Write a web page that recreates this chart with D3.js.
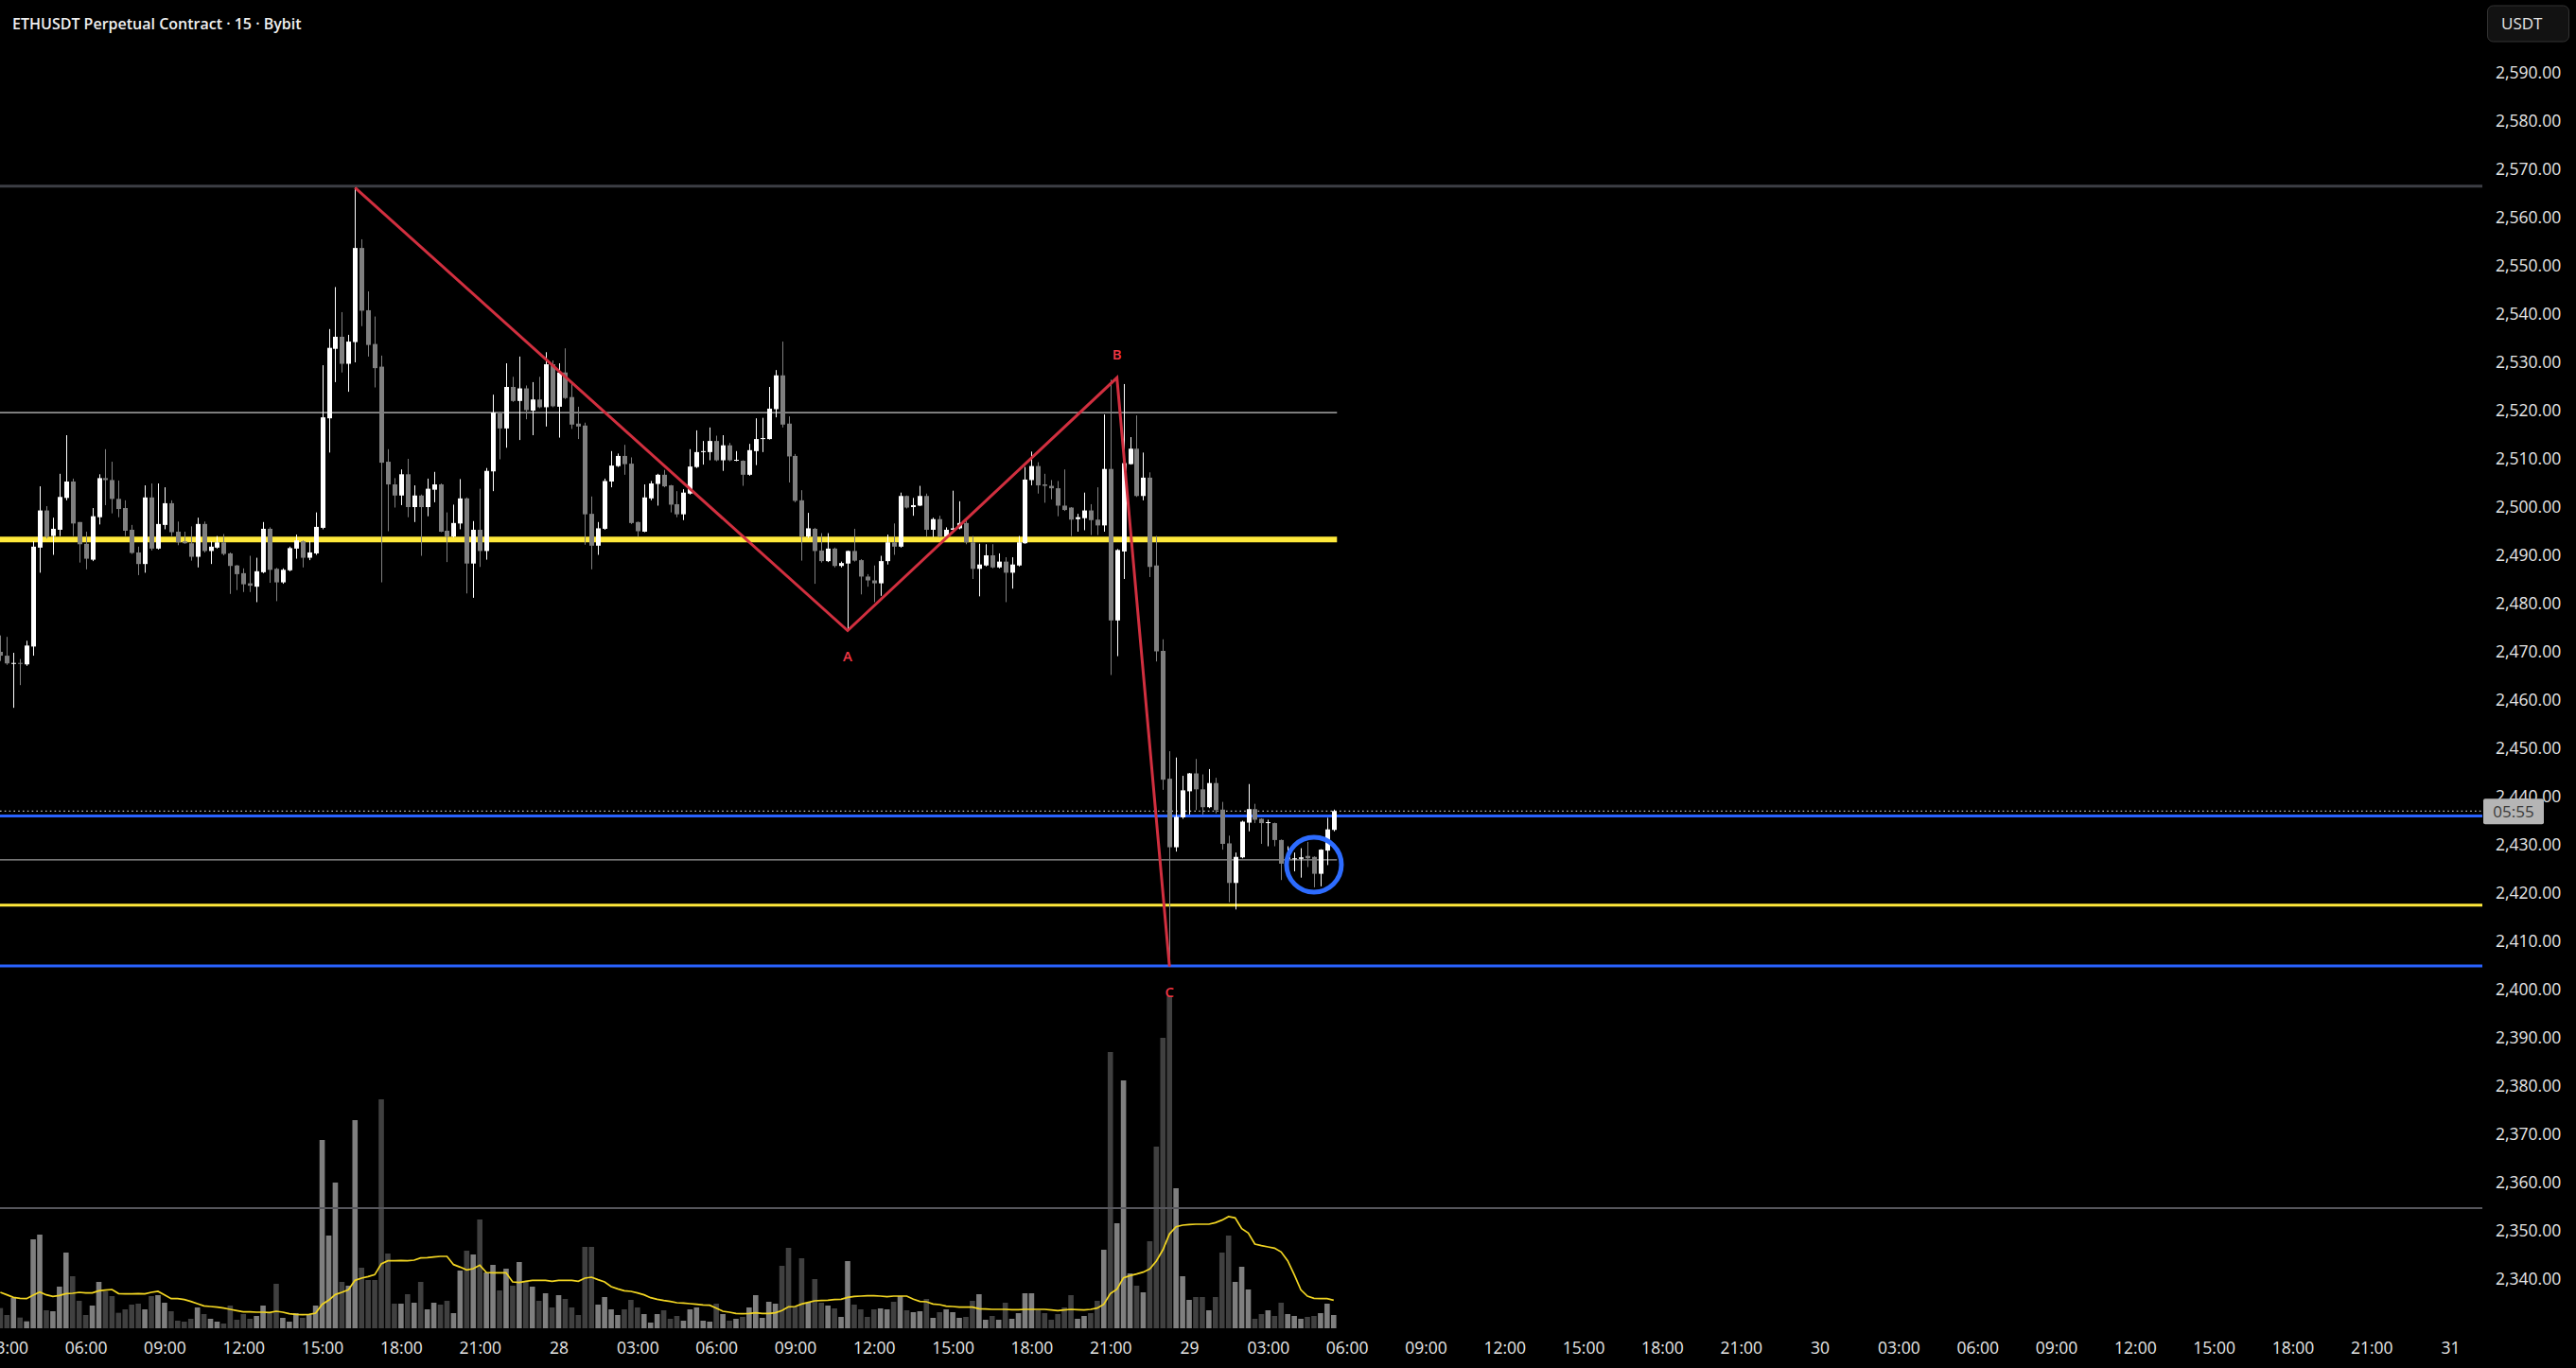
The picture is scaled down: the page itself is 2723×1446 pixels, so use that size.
<!DOCTYPE html>
<html>
<head>
<meta charset="utf-8">
<script src="https://cdn.jsdelivr.net/npm/d3@7"></script>
<style>
  html, body { margin: 0; padding: 0; background: #000; }
  svg { display: block; }
  text { font-family: "Open Sans", "Noto Sans", sans-serif; }
</style>
</head>
<body>
<svg id="chart" width="2723" height="1446"></svg>
<script>
// 15 minute bars, first one opens 02:45 on the 27th
const firstBarTime = "2025-05-27T02:45:00Z";

const opens = [2470.0,2469.2,2467.6,2467.7,2467.4,2471.1,2491.6,2499.3,2494.0,2495.3,2501.9,2505.3,2496.9,2492.4,2489.1,2497.9,2506.0,2505.6,2501.7,2499.8,2495.3,2490.6,2488.2,2502.0,2491.4,2496.3,2500.8,2494.9,2492.9,2492.5,2489.7,2496.5,2490.9,2491.6,2492.7,2490.4,2487.9,2486.3,2484.2,2483.5,2486.5,2495.5,2487.2,2484.4,2486.9,2491.4,2492.9,2489.5,2490.4,2495.7,2518.4,2532.8,2535.3,2529.7,2534.2,2553.7,2540.8,2533.8,2529.1,2509.4,2504.7,2502.4,2506.8,2500.0,2502.4,2500.0,2503.6,2504.7,2495.1,2493.9,2496.6,2501.8,2488.3,2495.3,2490.9,2507.4,2519.6,2516.3,2524.9,2522.0,2524.6,2520.0,2522.3,2520.7,2529.6,2520.8,2527.9,2522.8,2517.3,2516.9,2498.6,2492.0,2495.5,2505.3,2508.5,2510.6,2509.0,2496.9,2494.9,2501.8,2504.8,2506.7,2504.5,2500.6,2498.5,2502.8,2508.3,2511.4,2511.4,2513.7,2509.7,2512.8,2509.8,2509.6,2506.7,2511.6,2514.1,2514.1,2520.3,2527.3,2517.3,2510.6,2501.4,2493.9,2495.5,2491.0,2488.8,2491.4,2487.8,2488.3,2490.9,2489.0,2485.6,2484.8,2484.2,2488.8,2492.7,2491.8,2502.3,2500.0,2500.3,2502.3,2495.3,2497.5,2493.9,2495.3,2495.6,2496.7,2492.7,2487.2,2487.9,2490.0,2487.5,2488.7,2486.4,2487.9,2492.5,2505.6,2508.5,2504.7,2504.4,2503.9,2500.3,2499.9,2497.5,2497.7,2499.3,2497.4,2496.2,2507.9,2476.5,2490.8,2508.9,2512.1,2502.3,2506.1,2487.9,2470.2,2443.7,2429.5,2435.7,2441.1,2444.8,2441.5,2437.8,2442.8,2437.3,2430.3,2422.1,2427.4,2434.6,2437.4,2435.4,2434.5,2434.5,2431.0,2427.1,2427.0,2427.1,2427.7,2427.5,2424.0,2428.8,2433.1];
const highs = [2473.4,2473.1,2469.8,2468.5,2472.3,2492.9,2504.3,2500.2,2497.8,2506.9,2514.9,2505.9,2496.9,2494.9,2499.8,2506.8,2512.0,2509.4,2505.5,2501.4,2496.3,2491.8,2504.5,2504.9,2504.9,2504.1,2501.4,2497.0,2494.9,2496.0,2497.8,2497.0,2492.9,2494.0,2494.4,2490.6,2488.0,2487.3,2489.9,2489.5,2496.9,2495.8,2487.4,2487.3,2491.8,2494.3,2493.1,2492.9,2498.9,2529.4,2536.9,2545.6,2540.4,2535.7,2566.2,2555.5,2544.7,2539.5,2531.4,2512.0,2506.0,2507.8,2510.0,2504.5,2502.6,2505.9,2507.3,2504.9,2498.9,2500.5,2505.8,2502.0,2497.1,2503.8,2508.1,2523.3,2519.8,2529.8,2527.0,2531.2,2525.2,2525.9,2527.0,2532.1,2530.4,2529.8,2532.9,2525.5,2520.8,2517.5,2502.2,2496.9,2505.9,2511.6,2511.1,2512.9,2510.3,2497.0,2504.7,2505.4,2506.9,2507.7,2504.6,2503.3,2503.7,2512.0,2515.9,2513.7,2516.5,2514.8,2514.9,2513.3,2511.6,2509.7,2513.1,2518.4,2518.5,2524.9,2528.4,2534.3,2518.8,2511.0,2503.5,2498.8,2495.7,2494.6,2494.6,2491.6,2488.7,2491.0,2495.5,2489.2,2486.1,2487.9,2489.9,2494.3,2496.6,2503.0,2502.4,2501.9,2504.4,2502.8,2497.8,2498.2,2495.8,2503.4,2501.2,2497.4,2494.0,2492.4,2492.3,2492.3,2490.4,2489.6,2489.6,2494.0,2508.3,2511.5,2509.3,2506.9,2505.6,2505.4,2507.8,2500.0,2498.6,2503.0,2500.6,2504.1,2519.2,2526.4,2491.3,2525.5,2514.5,2519.0,2511.3,2507.2,2494.0,2472.6,2449.4,2448.1,2444.3,2444.9,2447.8,2444.6,2445.7,2443.9,2438.9,2431.9,2428.4,2435.0,2442.6,2438.5,2435.5,2435.2,2434.6,2431.1,2429.7,2428.4,2429.3,2430.6,2427.6,2429.1,2435.6,2437.3];
const lows = [2468.1,2467.3,2458.4,2463.1,2467.1,2469.2,2486.4,2493.5,2490.1,2494.0,2501.4,2494.0,2488.5,2487.1,2488.8,2496.4,2500.4,2498.7,2497.9,2494.0,2490.3,2485.9,2486.4,2491.0,2491.2,2495.4,2494.0,2492.1,2492.4,2488.9,2487.5,2490.6,2488.2,2491.4,2490.0,2482.0,2482.8,2482.4,2482.4,2480.3,2486.3,2484.3,2480.5,2484.1,2486.7,2489.3,2487.5,2489.0,2490.1,2495.4,2511.3,2525.9,2527.9,2523.9,2530.0,2537.5,2531.2,2524.8,2484.4,2495.0,2499.9,2500.4,2497.9,2496.9,2489.9,2498.1,2501.0,2494.8,2488.6,2493.7,2495.4,2482.1,2481.2,2487.6,2489.1,2503.3,2509.9,2512.3,2521.8,2513.9,2518.2,2514.9,2520.5,2516.7,2520.7,2514.4,2522.4,2516.2,2514.1,2492.2,2487.1,2490.1,2495.3,2504.1,2508.3,2506.7,2496.5,2493.9,2494.8,2501.4,2500.3,2504.1,2498.9,2497.9,2497.3,2502.6,2508.1,2508.8,2509.7,2509.5,2507.5,2509.5,2509.5,2504.4,2506.5,2508.7,2511.4,2514.0,2518.6,2516.5,2505.1,2501.0,2488.9,2493.6,2484.1,2488.5,2488.6,2487.5,2487.5,2474.4,2488.7,2481.9,2483.5,2480.3,2481.6,2488.1,2490.1,2491.6,2499.7,2498.2,2500.2,2493.9,2493.8,2493.7,2493.7,2495.1,2495.4,2492.3,2485.1,2481.5,2487.7,2487.3,2487.3,2480.3,2483.1,2487.7,2492.4,2504.5,2502.8,2500.9,2501.6,2498.1,2499.2,2494.0,2494.9,2495.2,2494.2,2494.2,2494.9,2465.2,2469.1,2485.1,2508.8,2502.1,2501.4,2485.5,2468.0,2441.4,2404.8,2428.6,2435.4,2436.3,2437.2,2436.3,2437.6,2436.5,2429.0,2418.1,2416.6,2427.2,2432.8,2434.5,2430.2,2429.7,2429.7,2422.7,2424.9,2424.5,2423.2,2425.4,2421.2,2421.4,2425.8,2432.8];
const closes = [2469.2,2467.6,2467.7,2467.6,2471.3,2491.8,2499.3,2493.9,2495.5,2502.1,2505.3,2496.6,2492.3,2489.3,2498.1,2506.0,2505.6,2501.7,2499.6,2495.1,2490.5,2488.2,2502.0,2491.4,2496.5,2500.8,2494.8,2492.7,2492.5,2489.7,2496.5,2490.9,2491.8,2492.7,2490.3,2487.8,2486.1,2484.0,2483.7,2486.7,2495.5,2487.0,2484.4,2487.0,2491.5,2493.1,2489.5,2490.6,2495.9,2518.6,2533.0,2535.3,2529.7,2534.3,2553.7,2540.7,2533.6,2528.8,2509.2,2504.7,2502.4,2506.8,2500.0,2502.4,2500.0,2503.8,2504.7,2494.9,2493.9,2496.7,2501.8,2488.3,2495.3,2490.9,2507.5,2519.6,2516.3,2524.9,2522.0,2524.6,2520.1,2522.3,2520.7,2529.6,2520.9,2527.9,2522.6,2517.1,2516.7,2498.5,2492.0,2495.6,2505.4,2508.6,2510.6,2508.9,2496.7,2495.0,2502.0,2504.9,2506.7,2504.3,2500.5,2498.5,2503.0,2508.4,2511.4,2511.6,2513.7,2509.7,2512.8,2509.7,2509.8,2506.7,2511.8,2514.1,2514.3,2520.4,2527.3,2517.1,2510.5,2501.3,2493.9,2495.6,2490.9,2488.8,2491.4,2487.8,2488.4,2490.9,2488.9,2485.6,2484.8,2484.2,2488.8,2492.7,2491.8,2502.3,2499.9,2500.4,2502.3,2495.3,2497.5,2493.9,2495.3,2495.6,2496.7,2492.7,2487.2,2488.1,2490.0,2487.5,2488.7,2486.4,2488.1,2492.7,2505.7,2508.5,2504.5,2504.4,2503.9,2500.3,2499.4,2497.4,2497.9,2499.3,2497.3,2496.2,2507.9,2476.5,2491.1,2509.1,2512.1,2502.3,2506.1,2487.6,2470.1,2443.5,2429.5,2435.8,2441.3,2444.8,2441.5,2437.8,2442.8,2437.2,2430.2,2422.1,2427.5,2434.8,2437.4,2435.2,2434.5,2434.7,2431.0,2426.1,2427.4,2427.2,2427.4,2427.2,2424.0,2429.0,2433.2,2437.0];

const volumes = [64,42,97,34,22,282,297,57,54,132,240,165,87,42,72,147,117,102,49,60,75,78,60,102,105,81,54,24,21,30,66,45,30,21,15,72,27,45,30,39,72,48,141,33,21,48,33,42,72,597,294,462,147,135,660,192,153,153,726,237,78,78,108,81,147,60,81,75,87,48,183,246,234,345,177,201,120,189,135,210,147,132,87,111,66,105,93,66,42,258,258,75,99,60,42,60,90,66,45,18,45,57,30,39,24,60,66,24,21,78,45,24,30,36,66,105,33,84,78,198,255,69,222,81,156,81,72,63,36,213,75,60,36,60,63,60,84,102,57,51,54,93,33,51,60,51,33,36,87,108,27,39,27,81,30,48,111,111,57,48,27,45,66,105,30,39,48,87,249,876,333,786,174,135,114,276,576,921,1054,444,165,90,99,99,57,99,240,294,147,195,123,30,45,57,39,81,45,39,30,36,39,48,78,42];
const volumeMA = [114,106,98,95,94,105,115,106,101,104,110,111,114,112,112,119,121,123,110,109,109,110,109,114,117,106,94,94,91,85,78,71,69,67,64,60,56,52,52,51,51,50,54,51,46,44,43,44,48,76,89,107,114,122,152,159,164,170,204,214,214,215,214,216,223,224,226,228,228,202,194,185,189,200,177,176,176,176,147,145,149,152,152,152,149,152,152,152,149,159,162,154,147,132,125,119,117,112,106,97,92,88,85,81,80,78,76,74,73,64,54,51,47,46,47,49,47,47,49,56,68,69,77,82,87,88,89,91,92,98,101,102,103,103,102,100,102,102,102,92,85,84,77,75,70,69,67,67,67,62,61,60,60,60,59,59,60,60,60,60,58,56,58,60,59,58,60,64,76,110,124,160,167,172,178,188,213,249,299,322,327,329,330,330,330,335,343,354,350,316,302,267,262,258,254,242,214,170,122,102,95,94,94,89];

// price axis and drawings
const priceTicks = d3.range(2340, 2591, 10);
const levelPrices = [2566.5, 2519.6, 2493.3, 2437.0, 2436.0, 2426.9, 2417.5, 2404.9, 2354.7];
const waveNames = ["", "A", "B", "C"];
const waveTimes = ["2025-05-27T16:15:00Z", "2025-05-28T11:00:00Z", "2025-05-28T21:15:00Z", "2025-05-28T23:15:00Z"];
const wavePrices = [2566.2, 2474.4, 2526.8, 2404.8];
const markTime = "2025-05-29T04:45:00Z";
const markPrice = 2425.9;
const countdown = "05:55";
const titleText = "ETHUSDT Perpetual Contract \u00b7 15 \u00b7 Bybit";

const W = 2723, H = 1446, chartRight = 2624;
const svg = d3.select("#chart");
svg.append("rect").attr("width", W).attr("height", H).attr("fill", "#000");

const t0 = new Date(firstBarTime);
const barMs = 15 * 60 * 1000;
const bars = opens.map((o, i) => ({
  t: new Date(t0.getTime() + i * barMs),
  o: o, h: highs[i], l: lows[i], c: closes[i],
  v: volumes[i], ma: volumeMA[i]
}));

const x = d3.scaleUtc()
  .domain([new Date("2025-05-27T03:00:00Z"), new Date("2025-05-31T00:00:00Z")])
  .range([7.3, 7.3 + 6.943 * 372]);
const y = d3.scaleLinear().domain([2340, 2590]).range([1352, 77]);
const yv = d3.scaleLinear().domain([0, 1200]).range([1404, 1004]);

svg.append("defs").append("clipPath").attr("id", "pane")
  .append("rect").attr("x", 0).attr("y", 0).attr("width", chartRight).attr("height", 1408);
const pane = svg.append("g").attr("clip-path", "url(#pane)");

// volume bars
pane.append("g").selectAll("rect").data(bars).enter().append("rect")
  .attr("x", d => x(d.t) - 2.8)
  .attr("width", 5.6)
  .attr("y", d => yv(d.v))
  .attr("height", d => yv(0) - yv(d.v))
  .attr("fill", d => d.c >= d.o ? "#7f7f7f" : "#404040");

pane.append("path").datum(bars)
  .attr("fill", "none")
  .attr("stroke", "#f2d522")
  .attr("stroke-width", 1.7)
  .attr("d", d3.line().x(d => x(d.t)).y(d => yv(d.ma)));

// horizontal levels (style per level, same order as levelPrices)
const lastX = x(bars[bars.length - 1].t) + 3.5;
const levelStyle = [
  {col: "#3c3e44", w: 3, end: chartRight},
  {col: "#c8c8c8", w: 1.3, end: lastX},
  {col: "#ffe93b", w: 6, end: lastX},
  {col: "#bdbdbd", w: 1.3, end: chartRight, dash: "1.6,3.2"},
  {col: "#2962ff", w: 3, end: chartRight},
  {col: "#9a9a9a", w: 1.3, end: lastX},
  {col: "#ffe93b", w: 3, end: chartRight},
  {col: "#2962ff", w: 3, end: chartRight},
  {col: "#56565c", w: 2, end: chartRight}
];
pane.append("g").selectAll("line").data(levelPrices).enter().append("line")
  .attr("x1", 0)
  .attr("x2", (d, i) => levelStyle[i].end)
  .attr("y1", d => y(d)).attr("y2", d => y(d))
  .attr("stroke", (d, i) => levelStyle[i].col)
  .attr("stroke-width", (d, i) => levelStyle[i].w)
  .attr("stroke-dasharray", (d, i) => levelStyle[i].dash || null);

// candles
const candles = pane.append("g").selectAll("g").data(bars).enter().append("g");
candles.append("line")
  .attr("x1", d => Math.round(x(d.t)) + 0.5)
  .attr("x2", d => Math.round(x(d.t)) + 0.5)
  .attr("y1", d => y(d.h)).attr("y2", d => y(d.l))
  .attr("stroke", d => d.c >= d.o ? "#ffffff" : "#7f7f7f")
  .attr("stroke-width", 1);
candles.append("rect")
  .attr("x", d => Math.round(x(d.t)) - 2)
  .attr("width", 5)
  .attr("y", d => y(Math.max(d.o, d.c)))
  .attr("height", d => Math.max(1, Math.abs(y(d.o) - y(d.c))))
  .attr("fill", d => d.c >= d.o ? "#ffffff" : "#7f7f7f");

// zigzag A-B-C
const wave = waveTimes.map((t, i) => ({t: new Date(t), p: wavePrices[i], name: waveNames[i]}));
pane.append("path").datum(wave)
  .attr("fill", "none")
  .attr("stroke", "#d12f3f")
  .attr("stroke-width", 3)
  .attr("d", d3.line().x(d => x(d.t)).y(d => y(d.p)));
pane.append("g").selectAll("text").data(wave.filter(d => d.name)).enter().append("text")
  .attr("x", d => x(d.t))
  .attr("y", d => d.name === "B" ? y(d.p) - 25 : y(d.p) + 27)
  .attr("dy", "0.35em")
  .attr("text-anchor", "middle")
  .attr("fill", "#f23645")
  .attr("font-size", 15)
  .attr("font-weight", 600)
  .text(d => d.name);

// circle marker
pane.append("circle")
  .attr("cx", x(new Date(markTime)))
  .attr("cy", y(markPrice))
  .attr("r", 29)
  .attr("fill", "none")
  .attr("stroke", "#2d6cff")
  .attr("stroke-width", 5);

// price axis
const yAxis = d3.axisRight(y).tickValues(priceTicks).tickSize(0).tickPadding(14)
  .tickFormat(d3.format(",.2f"));
const ya = svg.append("g").attr("transform", `translate(${chartRight},0)`).call(yAxis);
ya.select(".domain").remove();
ya.selectAll("text").attr("fill", "#e6e6e6").attr("font-size", 17.5)
  .attr("font-family", "'Open Sans', sans-serif");

// time axis
const fmtH = d3.utcFormat("%H:%M"), fmtD = d3.utcFormat("%-d");
const xTicks = d3.utcHour.every(3).range(new Date("2025-05-27T03:00:00Z"), new Date("2025-05-31T00:00:01Z"));
const xAxis = d3.axisBottom(x).tickValues(xTicks).tickSize(0).tickPadding(0)
  .tickFormat(d => d.getUTCHours() === 0 ? fmtD(d) : fmtH(d));
const xa = svg.append("g").attr("transform", "translate(0,1419)").call(xAxis);
xa.select(".domain").remove();
xa.selectAll("text").attr("fill", "#e6e6e6").attr("font-size", 17.5)
  .attr("font-family", "'Open Sans', sans-serif");

// countdown box on the price scale
const cy = y(closes[closes.length - 1]);
svg.append("rect").attr("x", chartRight + 1).attr("y", cy - 13).attr("width", 64).attr("height", 27)
  .attr("rx", 2).attr("fill", "#b5b5b5");
svg.append("text").attr("x", chartRight + 33).attr("y", cy + 0.5).attr("dy", "0.35em")
  .attr("text-anchor", "middle").attr("fill", "#3a3a3a").attr("font-size", 17)
  .text(countdown);

// currency button
svg.append("rect").attr("x", 2629.5).attr("y", 6).attr("width", 86).attr("height", 38)
  .attr("rx", 6).attr("fill", "#121212").attr("stroke", "#333").attr("stroke-width", 1);
svg.append("text").attr("x", 2644).attr("y", 25).attr("dy", "0.35em")
  .attr("fill", "#e6e6e6").attr("font-size", 17).text("USDT");

// title
svg.append("text").attr("x", 13).attr("y", 25).attr("dy", "0.35em")
  .attr("fill", "#f0f0f0").attr("font-size", 16).attr("font-weight", 600)
  .text(titleText);
</script>
</body>
</html>
